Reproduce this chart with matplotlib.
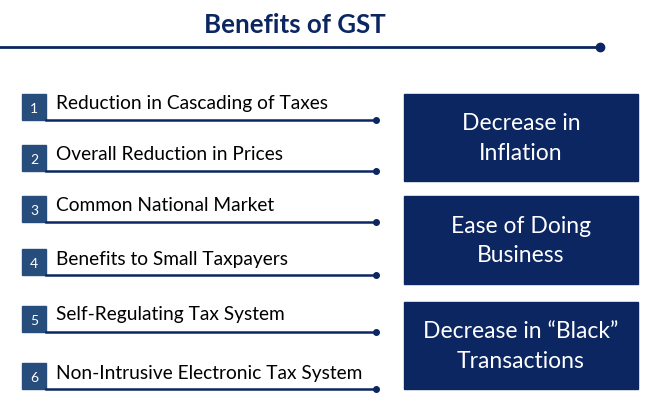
import matplotlib.pyplot as plt
from matplotlib.patches import Rectangle

plt.rcParams['font.family'] = ['Lato', 'DejaVu Sans']

navy = '#0b2660'
numblue = '#274d7c'

title = 'Benefits of GST'
items = ['Reduction in Cascading of Taxes', 'Overall Reduction in Prices',
         'Common National Market', 'Benefits to Small Taxpayers',
         'Self-Regulating Tax System', 'Non-Intrusive Electronic Tax System']
item_y = [107, 159, 210, 264, 319, 378]
line_y = [121, 172, 223, 276, 333, 390]
outcomes = ['Decrease in\nInflation', 'Ease of Doing\nBusiness',
            'Decrease in \u201cBlack\u201d\nTransactions']
box_top = [95, 197, 303]
box_h = [87, 88, 87]

fig = plt.figure(figsize=(6.58, 4.06), dpi=100)
ax = fig.add_axes([0, 0, 1, 1])
ax.set_xlim(0, 658)
ax.set_ylim(406, 0)
ax.axis('off')

ax.text(295, 25, title, ha='center', va='center', fontsize=18.6, fontweight='bold', color=navy)
ax.plot([0, 600], [48, 48], color=navy, lw=2)
ax.plot(600, 48, 'o', color=navy, ms=6)

for i, (txt, y, ly) in enumerate(zip(items, item_y, line_y)):
    ax.add_patch(Rectangle((22, ly - 26), 24, 26, color=numblue))
    ax.text(34, ly - 12, str(i + 1), ha='center', va='center', color='white', fontsize=10)
    ax.text(56, y - 4, txt, ha='left', va='center', fontsize=13.8, color='black')
    ax.plot([46, 376], [ly, ly], color=navy, lw=1.8)
    ax.plot(376, ly, 'o', color=navy, ms=4)

for txt, top, h in zip(outcomes, box_top, box_h):
    ax.add_patch(Rectangle((404, top), 234, h, color=navy))
    ax.text(521, top + h / 2, txt, ha='center', va='center', color='white',
            fontsize=16.5, linespacing=1.5)

fig.savefig('out.png', dpi=100)
